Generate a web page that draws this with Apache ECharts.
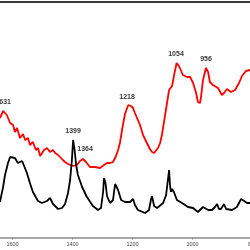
<!DOCTYPE html>
<html><head><meta charset="utf-8">
<script src="https://cdn.jsdelivr.net/npm/echarts@6/dist/echarts.min.js"></script>
<style>html,body{margin:0;padding:0;background:#fff}#c{width:250px;height:250px}</style>
</head><body><div id="c"></div>
<script>
// wavenumbers (cm-1) and intensities (arbitrary units)
const redWave = [1642,1631,1619,1608,1598,1592,1585,1575,1565,1558,1548,1542,1532,1522,1515,1508,1502,1495,1485,1475,1465,1458,1448,1442,1432,1425,1415,1408,1398,1385,1375,1365,1355,1342,1325,1308,1295,1285,1275,1265,1255,1248,1242,1232,1225,1218,1214,1205,1198,1192,1182,1175,1165,1152,1142,1135,1128,1122,1115,1108,1102,1095,1085,1078,1068,1062,1053,1045,1032,1018,1008,998,988,982,975,972,965,955,948,942,932,915,902,895,885,872,858,845,835,822,808];
const redVal  = [119.5,126.5,122.5,114.5,112.5,105.5,109.5,99.5,103.5,97.5,99.5,92.5,95.5,87.5,89.5,81.5,80.5,87.5,89.5,85.5,87.5,84.5,82.5,80.5,77.5,75.5,73.5,72.5,71.5,72.5,76.5,78.5,75.5,70.5,70.5,69.5,72.5,74.5,74.5,75.5,81.5,87.5,94.5,112.5,123.5,129.5,132.5,131.5,129.5,124.5,117.5,112.5,102.5,94.5,88.5,85.5,84.5,86.5,89.5,94.5,102.5,115.5,134.5,147.5,151.5,161.5,174.5,171.5,162.5,160.5,160.5,154.5,144.5,135.5,134.5,139.5,157.5,169.5,165.5,155.5,152.5,149.5,142.5,144.5,148.5,145.5,147.5,154.5,161.5,166.5,167.5];
const blackWave = [1642,1632,1625,1615,1608,1602,1592,1582,1568,1562,1552,1542,1532,1515,1502,1485,1475,1465,1448,1435,1425,1415,1408,1402,1398,1393,1388,1382,1368,1352,1332,1315,1305,1298,1295,1290,1285,1275,1265,1258,1253,1248,1238,1225,1208,1198,1192,1182,1158,1145,1138,1135,1128,1118,1098,1088,1082,1078,1075,1072,1068,1062,1052,1035,1015,998,982,965,948,935,925,918,912,905,895,888,868,852,838,828,818,808];
const blackVal  = [35.5,49.5,62.5,74.5,80.5,82.5,79.5,74.5,76.5,74.5,64.5,54.5,45.5,36.5,34.5,36.5,39.5,33.5,28.5,29.5,33.5,44.5,57.5,77.5,97.5,87.5,72.5,62.5,50.5,40.5,31.5,27.5,29.5,45.5,59.5,54.5,41.5,34.5,37.5,53.5,55.5,47.5,37.5,35.5,35.5,38.5,32.5,27.5,24.5,27.5,38.5,41.5,31.5,29.5,34.5,42.5,57.5,67.5,52.5,45.5,48.5,45.5,37.5,34.5,30.5,29.5,25.5,30.5,27.5,27.5,30.5,33.5,28.5,28.5,33.5,28.5,27.5,30.5,38.5,36.5,34.5,34.5];
const peakText = ['1631','1399','1364','1218','1054','956'];
const peakWave = [1631,1398,1358,1218,1055,955];
const peakVal  = [135.5,106.5,88.5,140.5,183.5,178.5];
const tickValues = [800,1000,1200,1400,1600];

const zip = (a,b)=>a.map((v,i)=>[v,b[i]]);
const chart = echarts.init(document.getElementById('c'), null, {renderer:'canvas'});
chart.setOption({
  animation:false,
  grid:{left:0,right:-2.5,top:2,bottom:12.5,outerBoundsMode:'none',containLabel:false},
  xAxis:[{
    type:'value', inverse:true, min:800, max:1641.7,
    axisLine:{show:true,lineStyle:{color:'#8a8a8a',width:1.5}},
    axisTick:{show:true,length:2,lineStyle:{color:'#8a8a8a',width:1},customValues:tickValues},
    axisLabel:{show:true,fontSize:5.5,color:'#444',margin:4,fontFamily:'Liberation Sans',customValues:tickValues,formatter:v=>String(v),hideOverlap:false},
    splitLine:{show:false}
  },{
    type:'value', inverse:true, min:800, max:1641.7, position:'top',
    axisLine:{show:true,onZero:false,lineStyle:{color:'#3a3a3a',width:2}},
    axisTick:{show:false}, axisLabel:{show:false}, splitLine:{show:false}
  }],
  yAxis:{type:'value',min:0,max:235.5,show:false},
  series:[
    {type:'line',data:zip(redWave,redVal),showSymbol:false,symbol:'none',lineStyle:{color:'#ff0000',width:1.8},z:3},
    {type:'line',data:zip(blackWave,blackVal),showSymbol:false,symbol:'none',lineStyle:{color:'#000000',width:1.8},z:3},
    {type:'scatter',data:zip(peakWave,peakVal).map((d,i)=>({value:d,name:peakText[i]})),symbolSize:0,z:5,
     label:{show:true,position:'inside',formatter:p=>p.name,fontSize:7,fontWeight:'bold',color:'#000',fontFamily:'Liberation Sans'}}
  ]
});
</script></body></html>
